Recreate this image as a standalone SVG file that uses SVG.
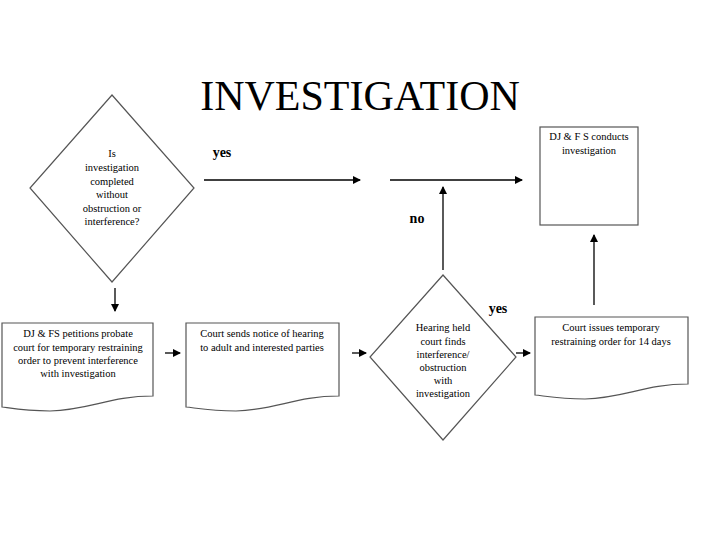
<svg xmlns="http://www.w3.org/2000/svg" width="720" height="540" viewBox="0 0 720 540">
<style>
.s{fill:#fff;stroke:#555;stroke-width:1.2}
.c{stroke:#000;stroke-width:1.3;fill:none;marker-end:url(#a)}
text{font-family:"Liberation Serif",serif;fill:#000;text-anchor:middle;font-size:10.5px}
.b{font-weight:bold;font-size:14px}
</style>
<defs><marker id="a" markerWidth="8" markerHeight="8" refX="7" refY="4" orient="auto" markerUnits="userSpaceOnUse"><path d="M0,0L8,4L0,8z" fill="#000"/></marker></defs>
<rect width="720" height="540" fill="#fff"/>
<text x="360" y="110" style="font-size:42px">INVESTIGATION</text>
<g id="d1"><polygon class="s" points="112,95 194,188 112,282 30,188"/>
<text x="112" y="157">Is</text><text x="112" y="171">investigation</text><text x="112" y="185">completed</text><text x="112" y="198">without</text><text x="112" y="212">obstruction or</text><text x="112" y="225">interference?</text></g>
<g id="n_conduct"><rect class="s" x="540" y="127" width="98" height="98"/>
<text x="589" y="140">DJ &amp; F S conducts</text><text x="589" y="154">investigation</text></g>
<g id="n_pet"><path class="s" d="M2,323H153V396C110,396 90,410 50,411C25,411 10,408 2,407Z"/>
<text x="78" y="337">DJ &amp; FS petitions probate</text><text x="78" y="351">court for temporary restraining</text><text x="78" y="364">order to prevent interference</text><text x="78" y="377">with investigation</text></g>
<g id="n_notice"><path class="s" d="M186,323H339V396C296,396 276,410 236,411C211,411 196,408 186,407Z"/>
<text x="262" y="337">Court sends notice of hearing</text><text x="262" y="351">to adult and interested parties</text></g>
<g id="d2"><polygon class="s" points="443,275 516,357 443,440 370,357"/>
<text x="443" y="331">Hearing held</text><text x="443" y="345">court finds</text><text x="443" y="358">interference/</text><text x="443" y="371">obstruction</text><text x="443" y="384">with</text><text x="443" y="397">investigation</text></g>
<g id="n_order"><path class="s" d="M535,317H688V384C645,384 625,398 585,399C560,399 545,396 535,395Z"/>
<text x="611" y="331">Court issues temporary</text><text x="611" y="345">restraining order for 14 days</text></g>
<g id="connectors">
<path class="c" d="M204,180H360"/><path class="c" d="M390,180H522"/>
<path class="c" d="M443,270V187"/><path class="c" d="M594,305V235"/>
<path class="c" d="M115,288V311"/><path class="c" d="M165,353H180"/>
<path class="c" d="M352,353H366"/><path class="c" d="M516,353H530"/>
<text class="b" x="222" y="157">yes</text><text class="b" x="417" y="223">no</text><text class="b" x="498" y="313">yes</text>
</g>
</svg>
